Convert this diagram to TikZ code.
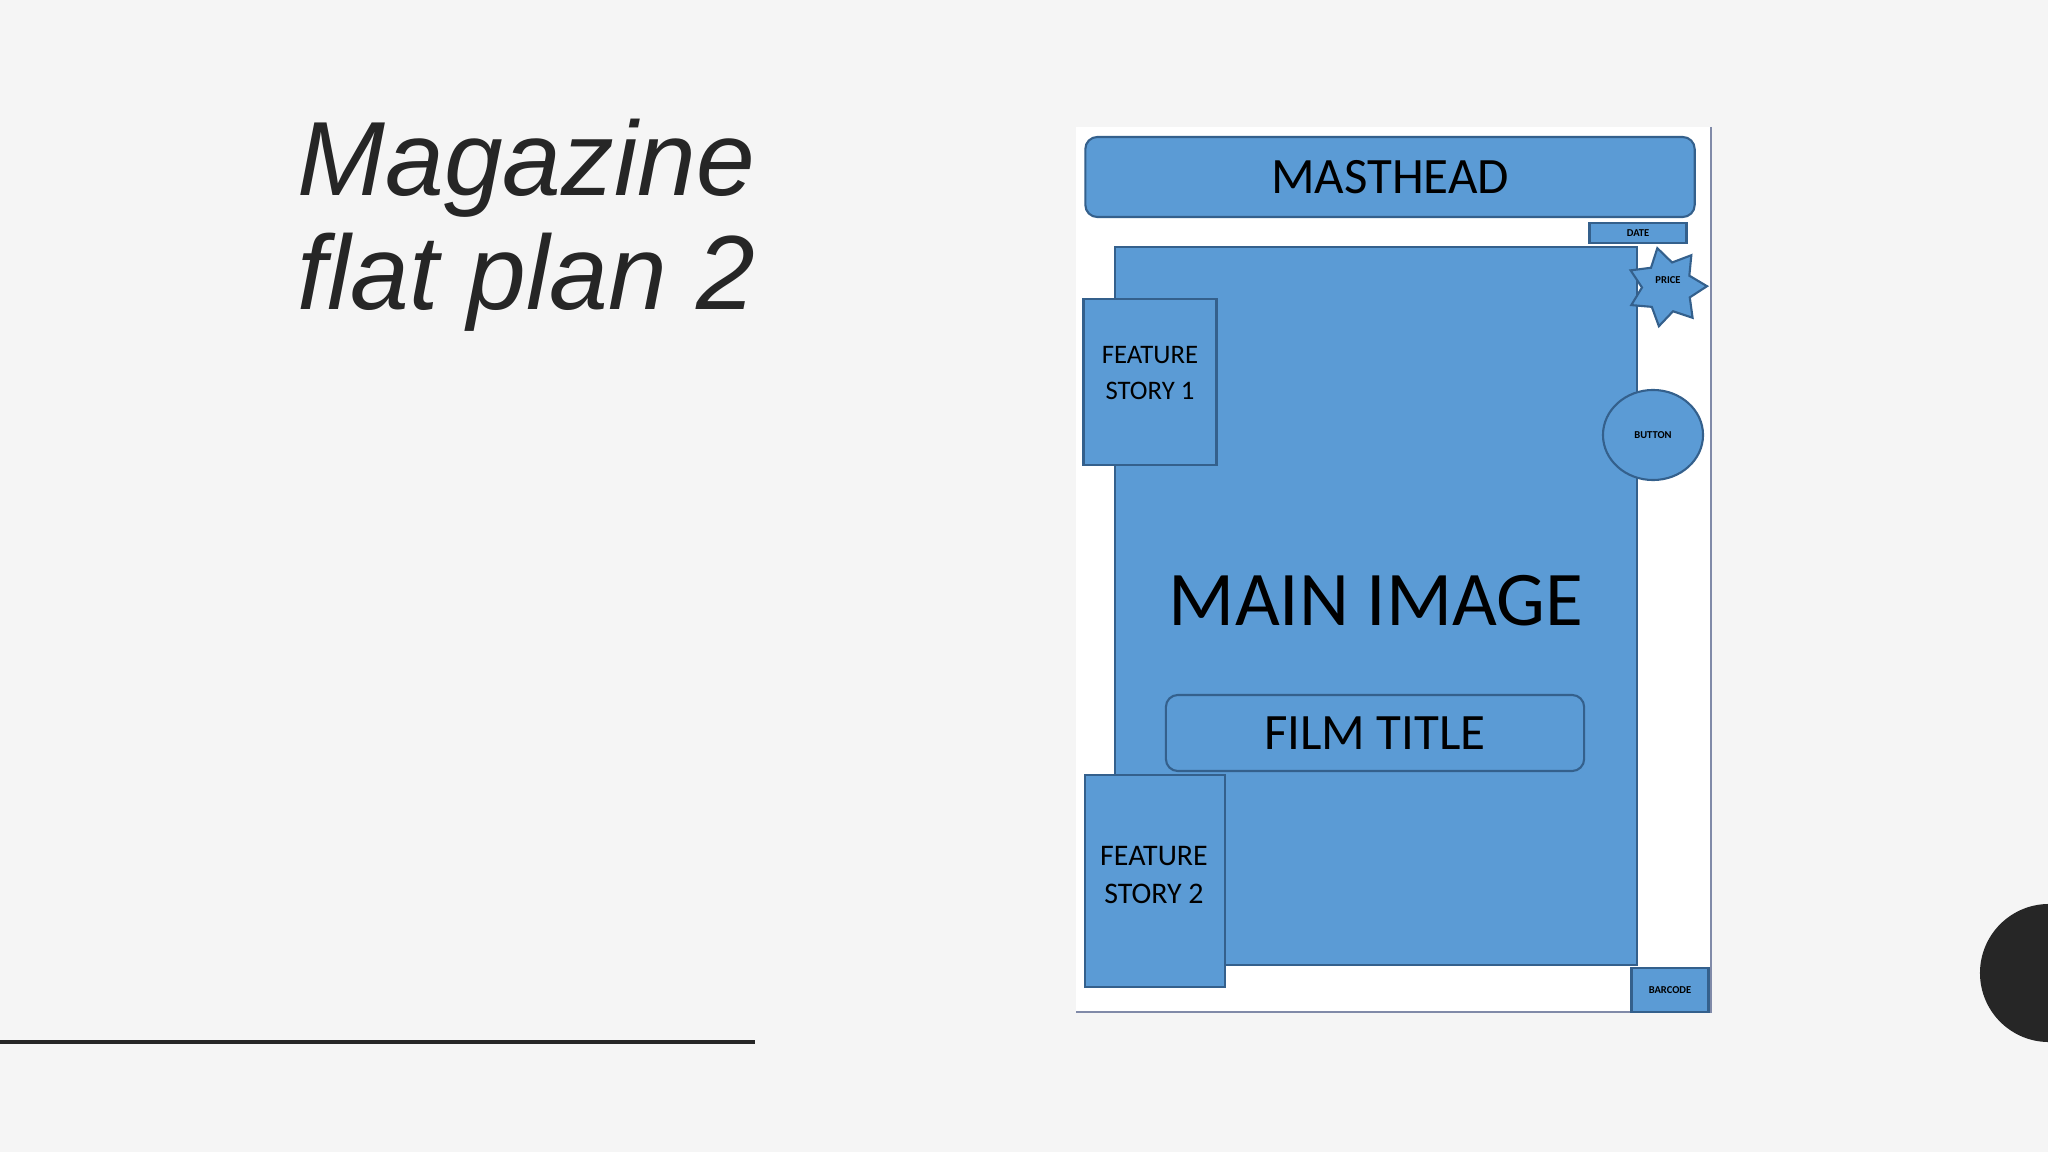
\documentclass[tikz,border=0pt]{standalone}
\usepackage{fontspec}
\setmainfont{Carlito}
\newfontfamily\headfont{Liberation Sans}
\usetikzlibrary{shapes.geometric}
\definecolor{slidebg}{RGB}{245,245,245}
\definecolor{ink}{RGB}{38,38,38}
\definecolor{boxblue}{RGB}{91,155,213}
\definecolor{boxline}{RGB}{52,96,140}
\definecolor{edgeline}{RGB}{128,138,168}

\begin{document}
\begin{tikzpicture}[x=0.01cm, y=-0.01cm,
      block/.style = {shape=rectangle, draw=boxline, fill=boxblue,
        line width=0.6pt, inner sep=0pt, align=center, text=black},
      tiny/.style = {font=\fontsize{3}{3.6}\selectfont\bfseries},
      headline/.style = {font=\headfont\itshape\fontsize{30}{32}\selectfont,
        text=ink, inner sep=0pt, anchor=base west}]
    \useasboundingbox (0,0) rectangle (2048,1152);
    \clip (0,0) rectangle (2048,1152);
    \fill[slidebg] (0,0) rectangle (2048,1152);

    % slide title and rule
    \node[headline] (title1) at (297,196) {Magazine};
    \node[headline] (title2) at (297,310) {flat plan 2};
    \draw[ink, line width=1.15pt] (0,1042) -- (755,1042);
    \fill[ink] (2049,973) circle[radius=0.69cm];

    % the page
    \fill[white] (1076,127) rectangle (1712,1012);
    \draw[edgeline, line width=0.7pt] (1711,127) -- (1711,1012) -- (1076,1012);

    \node[block, minimum width=5.22cm, minimum height=7.17cm,
      font=\fontsize{22}{26}\selectfont] (mainimg) at (1376,606) {};
    \node[font=\fontsize{22}{26}\selectfont, inner sep=0pt] (maintext)
      at (1376,601) {MAIN IMAGE};
    \node[block, rounded corners=0.12cm, minimum width=6.09cm, minimum height=0.8cm,
      font=\fontsize{14.5}{17}\selectfont] (mast) at (1390,177) {MASTHEAD};
    \node[block, minimum width=0.97cm, minimum height=0.2cm, tiny] (date)
      at (1638,233) {DATE};
    \node[block, minimum width=1.33cm, minimum height=1.66cm,
      font=\fontsize{7.6}{10.4}\selectfont] (story1) at (1150,382) {};
    \node[font=\fontsize{7.6}{10.4}\selectfont, align=center, inner sep=0pt]
      (story1text) at (1150,373) {FEATURE\\STORY 1};
    \node[block, minimum width=1.4cm, minimum height=2.11cm,
      font=\fontsize{8.5}{10.8}\selectfont] (story2) at (1155,881) {};
    \node[font=\fontsize{8.5}{10.8}\selectfont, align=center, inner sep=0pt]
      (story2text) at (1154,875) {FEATURE\\STORY 2};
    \node[block, rounded corners=0.12cm, minimum width=4.18cm, minimum height=0.76cm,
      font=\fontsize{14.5}{17}\selectfont] (film) at (1375,733) {FILM TITLE};
    \node[block, star, star points=7, star point ratio=1.6, minimum size=0.8cm,
      shape border rotate=14] (price) at (1667,287) {};
    \node[tiny, inner sep=0pt] (pricetext) at (1668,280) {PRICE};
    \node[block, ellipse, minimum width=1cm, minimum height=0.9cm,
      tiny] (button) at (1653,435) {BUTTON};
    \node[block, minimum width=0.77cm, minimum height=0.44cm, tiny] (barcode)
      at (1670,990) {BARCODE};
  \end{tikzpicture}
\end{document}
